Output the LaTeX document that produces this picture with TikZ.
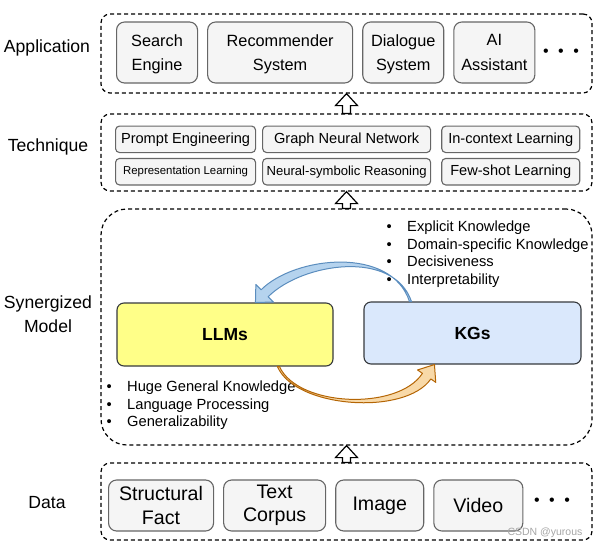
\documentclass[tikz,border=0pt]{standalone}
\usepackage{fontspec}
\setmainfont{Liberation Sans}
\usepackage{tikz}
\usetikzlibrary{positioning,calc}
\definecolor{boxfill}{HTML}{F5F5F5}
\definecolor{boxline}{HTML}{666666}
\definecolor{llmfill}{HTML}{FFFF88}
\definecolor{kgfill}{HTML}{DAE8FC}
\definecolor{darkline}{HTML}{36393D}
\definecolor{bluefill}{HTML}{B5D3EE}
\definecolor{blueline}{HTML}{5B8DBE}
\definecolor{orangefill}{HTML}{F8D9A8}
\definecolor{orangeline}{HTML}{B46504}
\tikzstyle{layer} = [rectangle, draw=black, line width=1.2pt, dash pattern=on 4pt off 3pt, rounded corners=9pt, minimum width=491pt]
\tikzstyle{rowname} = [font=\fontsize{17.6}{24}\selectfont, align=center]
\tikzstyle{item} = [rectangle, draw=boxline, fill=boxfill, line width=1.1pt, align=center, inner sep=2pt]
\tikzstyle{appbox} = [item, rounded corners=8pt, minimum height=61pt, text depth=0pt, execute at begin node={\rule{0pt}{15pt}}, font=\fontsize{16.3}{24.5}\selectfont]
\tikzstyle{techbox} = [item, rounded corners=4pt, minimum height=26.5pt, font=\fontsize{14.6}{17}\selectfont]
\tikzstyle{databox} = [item, rounded corners=8pt, minimum height=51pt, font=\fontsize{19.6}{23.5}\selectfont]
\tikzstyle{core} = [rectangle, draw=darkline, line width=1.1pt, rounded corners=7pt, font=\fontsize{17.5}{20}\selectfont\bfseries]
\tikzstyle{bullets} = [align=left, inner sep=0pt, anchor=north west, font=\fontsize{14.7}{17.8}\selectfont]
\tikzstyle{bigarrow} = [draw=black, fill=white, line width=1.2pt]
\tikzstyle{more} = [font=\fontsize{16}{16}\selectfont]
\newcommand{\itemdot}{\makebox[20.6pt][l]{\textbullet}}

\begin{document}
\begin{tikzpicture}[x=1pt, y=-1pt]
    \useasboundingbox (0,0) rectangle (598,550);
    % layers
    \node (app) [layer, minimum height=79pt] at (346.5,53.5) {};
    \node (tech) [layer, minimum height=77pt] at (346.5,152.5) {};
    \node (syn) [layer, minimum height=236pt, rounded corners=26pt] at (346.5,327) {};
    \node (data) [layer, minimum height=77pt] at (346.5,501.5) {};
    \node (appname) [rowname, anchor=base] at (47,52) {Application};
    \node (techname) [rowname, anchor=base] at (48,151) {Technique};
    \node (synname) [rowname] at (48,314.6) {Synergized\\Model};
    \node (dataname) [rowname, anchor=base] at (47,508) {Data};

    % application
    \node (search) [appbox, minimum width=81pt, anchor=west] at (116,52.5) {Search\\Engine};
    \node (recom) [appbox, minimum width=145pt, right=9pt of search] {Recommender\\System};
    \node (dialog) [appbox, minimum width=81pt, right=9pt of recom] {Dialogue\\System};
    \node (assist) [appbox, minimum width=81pt, right=9pt of dialog] {AI\\Assistant};
    \node (appmore) [more] at (561,53) {\textbullet\hspace{9.5pt}\textbullet\hspace{9.5pt}\textbullet};

    % technique
    \node (prompt) [techbox, minimum width=140pt, anchor=west] at (115,139.3) {Prompt Engineering};
    \node (gnn) [techbox, minimum width=168pt, right=6pt of prompt] {Graph Neural Network};
    \node (icl) [techbox, minimum width=138pt, right=10pt of gnn] {In-context Learning};
    \node (repr) [techbox, minimum width=140pt, anchor=west, font=\fontsize{11.4}{13}\selectfont] at (115,171.7) {Representation Learning};
    \node (nesy) [techbox, minimum width=168pt, right=6pt of repr, font=\fontsize{13.1}{15}\selectfont] {Neural-symbolic Reasoning};
    \node (few) [techbox, minimum width=138pt, right=10pt of nesy] {Few-shot Learning};

    % synergized model
    \node (llm) [core, fill=llmfill, minimum width=216pt, minimum height=63pt] at (225,334.5) {LLMs};
    \node (kg) [core, fill=kgfill, minimum width=217pt, minimum height=62pt] at (472.5,333) {KGs};
    \node (llmlist) [bullets] at (106.4,380.5) {\itemdot Huge General Knowledge\\\itemdot Language Processing\\\itemdot Generalizability};
    \node (kglist) [bullets] at (386.4,220.5) {\itemdot Explicit Knowledge\\\itemdot Domain-specific Knowledge\\\itemdot Decisiveness\\\itemdot Interpretability};
    \coordinate (bt) at ($(kg.north west)+(47,0)$);
    \coordinate (bp) at ($(llm.north west)+(139,0)$);
    \coordinate (ot) at ($(llm.south west)+(162,0)$);
    \coordinate (op) at ($(kg.south west)+(71,0)$);
    \draw [draw=blueline, fill=bluefill, line width=1pt, line join=round]
        ($(bt)+(-1,0)$) .. controls ($(bt)+(-19,-55.5)$) and ($(bp)+(39.6,-46.6)$) .. ($(bp)+(5.7,-12.7)$)
        -- ($(bp)+(0.4,-18)$) -- (bp) -- ($(bp)+(18,-0.4)$) -- ($(bp)+(12.7,-5.7)$)
        .. controls ($(bp)+(46.6,-39.6)$) and ($(bt)+(-17,-52.5)$) .. ($(bt)+(1,0)$) -- cycle;
    \draw [draw=orangeline, fill=orangefill, line width=1pt, line join=round]
        ($(ot)+(-1,0)$) .. controls ($(ot)+(16.6,41.6)$) and ($(op)+(-29.3,51.5)$) .. ($(op)+(-3.6,14.4)$)
        -- ($(op)+(1.3,17.8)$) -- (op) -- ($(op)+(-16.9,5.4)$) -- ($(op)+(-12,8.8)$)
        .. controls ($(op)+(-36.7,46.5)$) and ($(ot)+(19.4,40.4)$) .. ($(ot)+(1,0)$) -- cycle;

    % data
    \node (fact) [databox, minimum width=105pt, anchor=west] at (108,505.5) {Structural\\Fact};
    \node (corpus) [databox, minimum width=102pt, right=9pt of fact] {Text\\Corpus};
    \node (image) [databox, minimum width=88pt, right=9pt of corpus] {Image};
    \node (video) [databox, minimum width=89pt, right=9pt of image] {Video};
    \node (datamore) [more] at (552,502) {\textbullet\hspace{9.5pt}\textbullet\hspace{9.5pt}\textbullet};

    % block arrows between layers
    \foreach \lo/\hi in {tech/app, syn/tech, data/syn}
        \draw [bigarrow] ($(\lo.north)+(-4,0)$) -- ($(\hi.south)+(-4,12)$) -- ($(\hi.south)+(-11,12)$) -- (\hi.south)
            -- ($(\hi.south)+(11,12)$) -- ($(\hi.south)+(4,12)$) -- ($(\lo.north)+(4,0)$) -- cycle;

    \node (mark) [font=\fontsize{10.5}{12}\selectfont, text=gray!70] at (545,533) {CSDN @yurous};
\end{tikzpicture}
\end{document}
